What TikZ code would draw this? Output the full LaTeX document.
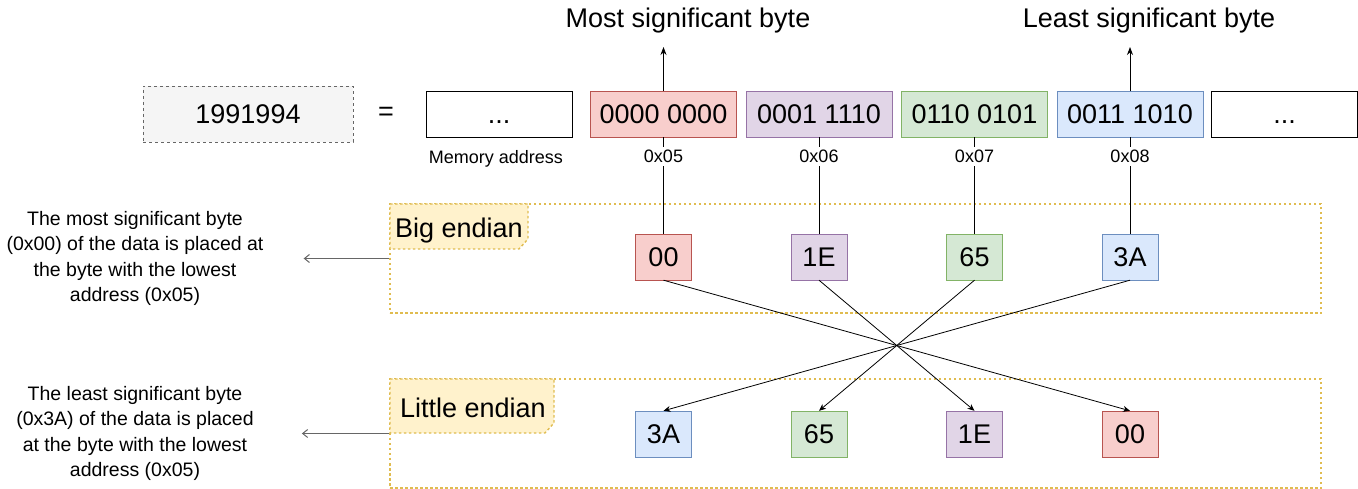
\documentclass[tikz,border=0pt]{standalone}
\usepackage{fontspec}
\setmainfont{Liberation Sans}
\usepackage{tikz}
\usetikzlibrary{positioning, calc, arrows.meta}

\definecolor{redF}{HTML}{F8CECC}  \definecolor{redD}{HTML}{B85450}
\definecolor{purF}{HTML}{E1D5E7}  \definecolor{purD}{HTML}{9673A6}
\definecolor{grnF}{HTML}{D5E8D4}  \definecolor{grnD}{HTML}{82B366}
\definecolor{bluF}{HTML}{DAE8FC}  \definecolor{bluD}{HTML}{6C8EBF}
\definecolor{ylwF}{HTML}{FFF2CC}  \definecolor{ylwD}{HTML}{E0BC50}
\definecolor{gryF}{HTML}{F5F5F5}  \definecolor{gryD}{HTML}{666666}

\begin{document}
\begin{tikzpicture}[x=1pt, y=-1pt,
        bigfont/.style={font=\fontsize{27}{32}\selectfont},
        bytebox/.style={draw, bigfont, minimum width=146pt, minimum height=46pt, inner sep=0pt, text height=19.3pt, text depth=0pt},
        cell/.style={draw, bigfont, minimum width=56pt, minimum height=46pt, inner sep=0pt, text height=19.3pt, text depth=0pt},
        redbox/.style={fill=redF, draw=redD},
        purbox/.style={fill=purF, draw=purD},
        grnbox/.style={fill=grnF, draw=grnD},
        blubox/.style={fill=bluF, draw=bluD},
        dotline/.style={draw=ylwD, line width=1.4pt, dash pattern=on 2.5pt off 2.5pt},
        addr/.style={fill=white, inner sep=3pt, font=\fontsize{18}{22}\selectfont},
        note/.style={align=center, inner sep=0pt, font=\fontsize{19.5}{25.3}\selectfont},
        uparrow/.style={-{Stealth[length=8pt, width=6pt]}, line width=0.8pt},
        swapline/.style={-{Stealth[length=7pt, width=6pt]}, line width=0.8pt},
        sidearrow/.style={-{Straight Barb[length=5pt, width=8pt]}, draw=gryD, line width=1pt}]

        \useasboundingbox (0,0) rectangle (1358,489);

        % the value and its bytes in memory
        \node[draw=gryD, fill=gryF, dashed, bigfont, minimum width=210pt, minimum height=56pt] (num) at (248,114) {1991994};
        \node[bigfont] (eq) at (386,114) {=};
        \node[bytebox] (mem0) at (499,114) {...};
        \node[anchor=base, font=\fontsize{18}{22}\selectfont] (memlbl) at (496,164) {Memory address};
        \node[bytebox, redbox] (b5) at (663.5,114) {0000 0000};
        \node[bytebox, purbox] (b6) at (819,114) {0001 1110};
        \node[bytebox, grnbox] (b7) at (974.5,114) {0110 0101};
        \node[bytebox, blubox] (b8) at (1130,114) {0011 1010};
        \node[bytebox] (mem9) at (1284.5,114) {...};

        % most and least significant byte
        \node[anchor=base, bigfont] (msb) at (688,28) {Most significant byte};
        \node[anchor=base, bigfont] (lsb) at (1149,28) {Least significant byte};
        \coordinate (msbtip) at (663.5,47);
        \coordinate (lsbtip) at (1130,47);
        \draw[uparrow] (b5.north) -- (msbtip);
        \draw[uparrow] (b8.north) -- (lsbtip);

        % the two frames
        \node[dotline, minimum width=931pt, minimum height=109pt] (bigbox) at (855.5,258.5) {};
        \node[dotline, minimum width=931pt, minimum height=109pt] (littlebox) at (855.5,433.5) {};
        \draw[dotline, fill=ylwF] (390,204) -- (528,204) -- (528,239) -- (519,249) -- (390,249) -- cycle;
        \node[anchor=base west, inner sep=0pt, bigfont] (bigtag) at (395,238) {Big endian};
        \draw[dotline, fill=ylwF] (390,379) -- (554,379) -- (554,423) -- (545,433) -- (390,433) -- cycle;
        \node[anchor=base west, inner sep=0pt, bigfont] (littletag) at (400,417) {Little endian};

        % big endian
        \node[cell, redbox] (t0) at (663.5,257) {00};
        \node[cell, purbox] (t1) at (819,257) {1E};
        \node[cell, grnbox] (t2) at (974.5,257) {65};
        \node[cell, blubox] (t3) at (1130,257) {3A};

        % little endian
        \node[cell, blubox] (l0) at (663.5,434) {3A};
        \node[cell, grnbox] (l1) at (819,434) {65};
        \node[cell, purbox] (l2) at (974.5,434) {1E};
        \node[cell, redbox] (l3) at (1130,434) {00};

        % addresses
        \draw (b5.south) -- node[addr, pos=0.2] {0x05} (t0.north);
        \draw (b6.south) -- node[addr, pos=0.2] {0x06} (t1.north);
        \draw (b7.south) -- node[addr, pos=0.2] {0x07} (t2.north);
        \draw (b8.south) -- node[addr, pos=0.2] {0x08} (t3.north);

        % the swap
        \draw[swapline] (t0.south) -- (l3.north);
        \draw[swapline] (t1.south) -- (l2.north);
        \draw[swapline] (t2.south) -- (l1.north);
        \draw[swapline] (t3.south) -- (l0.north);

        % explanations
        \node[note] (bignote) at (135,258.5) {The most significant byte\\(0x00) of the data is placed at\\the byte with the lowest\\address (0x05)};
        \node[note] (littlenote) at (135,433.5) {The least significant byte\\(0x3A) of the data is placed\\at the byte with the lowest\\address (0x05)};
        \draw[sidearrow, shorten >=40pt] (bigbox.west) -- (bignote.east);
        \draw[sidearrow, shorten >=48pt] (littlebox.west) -- (littlenote.east);
\end{tikzpicture}
\end{document}
